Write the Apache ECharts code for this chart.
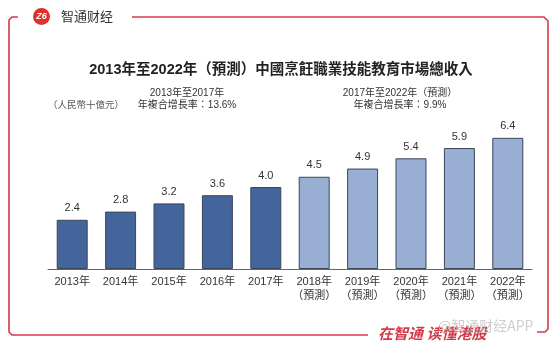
<!DOCTYPE html>
<html>
<head>
<meta charset="utf-8">
<script src="https://cdn.jsdelivr.net/npm/echarts@6/dist/echarts.min.js"></script>
<style>
  html, body { margin: 0; padding: 0; background: #fff; }
  #chart { width: 554px; height: 347px; }
</style>
</head>
<body>
<div id="chart"></div>
<script>
  // data
  const years = ['2013年', '2014年', '2015年', '2016年', '2017年',
    '2018年\n（預測）', '2019年\n（預測）', '2020年\n（預測）', '2021年\n（預測）', '2022年\n（預測）']
  const revenue = [2.4, 2.8, 3.2, 3.6, 4.0, 4.5, 4.9, 5.4, 5.9, 6.4]
  const forecastFrom = 5

  const FONT = '"Liberation Sans", "Noto Sans CJK TC", sans-serif'
  const RED = '#d23a48'

  const barData = revenue.map((v, i) => ({
    value: v,
    itemStyle: {
      color: i < forecastFrom ? '#44659b' : '#98aed2',
      borderColor: '#3b4657',
      borderWidth: 1
    }
  }))

  const option = {
    backgroundColor: '#ffffff',
    animation: false,
    textStyle: { fontFamily: FONT },
    grid: { left: 48, right: 22, top: 125.5, bottom: 78 },
    xAxis: {
      type: 'category',
      data: years,
      axisLine: { lineStyle: { color: '#666', width: 1 } },
      axisTick: { show: false },
      axisLabel: { interval: 0, color: '#333', fontSize: 11, lineHeight: 14, margin: 6, fontFamily: FONT }
    },
    yAxis: {
      type: 'value',
      min: 0,
      max: 7,
      show: false,
      splitLine: { show: false }
    },
    series: [{
      type: 'bar',
      data: barData,
      barWidth: '64%',
      label: {
        show: true,
        position: 'top',
        distance: 6,
        color: '#333',
        fontSize: 11,
        fontFamily: FONT,
        formatter: p => p.value.toFixed(1)
      }
    }],
    graphic: [
      // red frame
      {
        type: 'polyline',
        shape: { points: [[18, 17], [12, 17], [9, 20], [9, 332], [12, 335], [368, 335]] },
        style: { stroke: RED, lineWidth: 1.6, fill: null }
      },
      {
        type: 'polyline',
        shape: { points: [[132, 17], [544, 17], [548, 21], [548, 329], [545, 332], [537, 332]] },
        style: { stroke: RED, lineWidth: 1.6, fill: null }
      },
      // logo
      { type: 'circle', shape: { cx: 41.5, cy: 16.5, r: 8.5 }, style: { fill: '#e0302c' } },
      {
        type: 'text', x: 41.5, y: 16.5,
        style: { text: 'Z6', fill: '#fff', font: 'bold italic 9px "Liberation Sans"', align: 'center', verticalAlign: 'middle' }
      },
      {
        type: 'text', x: 61, y: 16.5,
        style: { text: '智通财经', fill: '#333', font: '13px "Noto Sans CJK SC"', verticalAlign: 'middle' }
      },
      // title
      {
        type: 'text', x: 281, y: 70,
        style: { text: '2013年至2022年（預測）中國烹飪職業技能教育市場總收入', fill: '#222', font: 'bold 14.5px "Liberation Sans", "Noto Sans CJK TC"', align: 'center', verticalAlign: 'middle' }
      },
      {
        type: 'text', x: 48, y: 104,
        style: { text: '（人民幣十億元）', fill: '#555', font: '9.5px "Noto Sans CJK TC"', verticalAlign: 'middle' }
      },
      {
        type: 'text', x: 187, y: 99.5,
        style: { text: '2013年至2017年\n年複合增長率：13.6%', fill: '#333', font: '10px "Liberation Sans", "Noto Sans CJK TC"', lineHeight: 12, align: 'center', verticalAlign: 'middle' }
      },
      {
        type: 'text', x: 400, y: 99.5,
        style: { text: '2017年至2022年（預測）\n年複合增長率：9.9%', fill: '#333', font: '10px "Liberation Sans", "Noto Sans CJK TC"', lineHeight: 12, align: 'center', verticalAlign: 'middle' }
      },
      // footer
      {
        type: 'text', x: 378, y: 333,
        style: { text: '在智通 读懂港股', fill: RED, font: 'italic bold 15px "Noto Sans CJK SC"', verticalAlign: 'middle' }
      },
      {
        type: 'text', x: 438, y: 326,
        style: { text: '@智通财经APP', fill: 'rgba(190,190,190,0.75)', font: '14px "Noto Sans CJK SC"', verticalAlign: 'middle' }
      }
    ]
  }

  const chart = echarts.init(document.getElementById('chart'))
  chart.setOption(option)
</script>
</body>
</html>
